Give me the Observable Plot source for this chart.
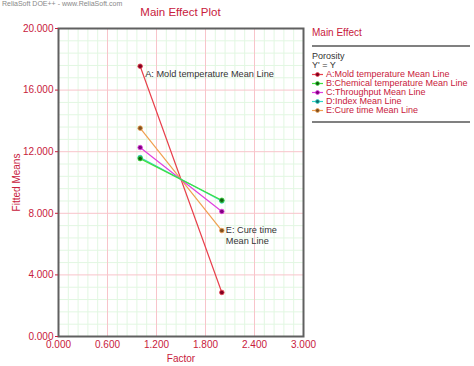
<!DOCTYPE html>
<html>
<head>
<meta charset="utf-8">
<script src="https://cdn.jsdelivr.net/npm/d3@7"></script>
<script src="https://cdn.jsdelivr.net/npm/@observablehq/plot@0.6"></script>
<style>
  body { margin: 0; background: #fff; }
  #wrap { position: relative; width: 474px; height: 366px; overflow: hidden; font-family: "Liberation Sans", Arial, sans-serif; }
  .abs { position: absolute; white-space: nowrap; }
  #credit { left: 2px; top: 0px; font-size: 7px; color: #888; }
  #title { left: 0; width: 361px; text-align: center; top: 6px; font-size: 11.5px; color: #c8203c; }
  #legend { left: 312px; top: 27px; width: 158px; font-size: 9px; }
  #legend .hdr { color: #c8203c; font-size: 10px; height: 15px; }
  #legend .sep { border-top: 2px solid #808080; margin: 3px 0 5px 0; }
  #legend .blk { color: #333; line-height: 9px; height: 9px; }
  #legend .item { color: #c8203c; line-height: 9px; height: 9px; display: flex; align-items: center; }
  #legend svg { flex: none; margin-right: 3px; }
</style>
</head>
<body>
<div id="wrap">
  <div id="credit" class="abs">ReliaSoft DOE++ - www.ReliaSoft.com</div>
  <div id="title" class="abs">Main Effect Plot</div>
  <div id="legend" class="abs"></div>
</div>
<script>
// ---- data ----
const factors = ["A:Mold temperature Mean Line", "B:Chemical temperature Mean Line", "C:Throughput Mean Line", "D:Index Mean Line", "E:Cure time Mean Line"];
const levels = [1, 2];
const meanLow = [17.55, 11.55, 12.27, 11.62, 13.53];
const meanHigh = [2.86, 8.85, 8.12, 8.80, 6.88];
const lineColors = ["#e8404c", "#40e040", "#e040e0", "#30d8c8", "#f0a050"];
const dotColors = ["#800020", "#106010", "#800080", "#107070", "#805020"];
const drawOrder = [0, 4, 2, 3, 1];
const xTicks = [0, 0.6, 1.2, 1.8, 2.4, 3.0];
const yTicks = [0, 4, 8, 12, 16, 20];
const annotA = [{x: levels[0], y: meanLow[0], text: "A: Mold temperature Mean Line"}];
const annotE = [{x: levels[1], y: meanHigh[4], text: "E: Cure time\nMean Line"}];

const red = "#c8203c";
const rows = [];
drawOrder.forEach(i => {
  const f = factors[i];
  rows.push({f, i, x: levels[0], y: meanLow[i]});
  rows.push({f, i, x: levels[1], y: meanHigh[i]});
});
const minorX = d3.range(0, 3.0001, 0.12).filter(v => !xTicks.some(t => Math.abs(t - v) < 1e-6));
const minorY = d3.range(0, 20.0001, 0.8).filter(v => !yTicks.some(t => Math.abs(t - v) < 1e-6));

const chart = Plot.plot({
  width: 474,
  height: 366,
  marginLeft: 58,
  marginRight: 171,
  marginTop: 28,
  marginBottom: 30,
  style: {fontFamily: "Liberation Sans, Arial, sans-serif", fontSize: "10px", background: "transparent", overflow: "visible"},
  x: {domain: [0, 3]},
  y: {domain: [0, 20]},
  marks: [
    Plot.ruleX(minorX, {stroke: "#e2f7e2", strokeWidth: 1}),
    Plot.ruleY(minorY, {stroke: "#e2f7e2", strokeWidth: 1}),
    Plot.ruleX(xTicks.slice(1, -1), {stroke: "#f8c4ca", strokeWidth: 1}),
    Plot.ruleY(yTicks.slice(1, -1), {stroke: "#f8c4ca", strokeWidth: 1}),
    Plot.frame({stroke: "#606060", strokeWidth: 2}),
    Plot.axisX({ticks: xTicks, tickFormat: d3.format(".3f"), tickSize: 0, tickPadding: 4, color: red,
      label: "Factor", labelAnchor: "center", labelArrow: "none", labelOffset: 25}),
    Plot.axisY({ticks: yTicks, tickFormat: d3.format(".3f"), tickSize: 3, tickPadding: 2, color: red,
      label: "Fitted Means", labelAnchor: "center", labelArrow: "none", labelOffset: 46}),
    Plot.line(rows, {x: "x", y: "y", z: "f", stroke: d => lineColors[d.i], strokeWidth: 1.2}),
    Plot.dot(rows, {x: "x", y: "y", r: 2.3, fill: d => dotColors[d.i], stroke: d => lineColors[d.i], strokeWidth: 0.8}),
    Plot.text(annotA, {x: "x", y: "y", text: "text", textAnchor: "start", lineAnchor: "middle", dx: 5, dy: 8,
      fill: "#333", fontSize: 9.2}),
    Plot.text(annotE, {x: "x", y: "y", text: "text", textAnchor: "start", lineAnchor: "top", dx: 4, dy: -5,
      fill: "#333", fontSize: 9.2, lineHeight: 1.2})
  ]
});
const wrap = document.getElementById("wrap");
chart.style.position = "absolute";
chart.style.left = "0px";
chart.style.top = "0px";
wrap.insertBefore(chart, wrap.firstChild);

// legend
const lg = document.getElementById("legend");
let html = '<div class="hdr">Main Effect</div><div class="sep"></div>';
html += '<div class="blk">Porosity</div><div class="blk">Y\' = Y</div>';
factors.forEach((f, i) => {
  html += `<div class="item"><svg width="11" height="9"><line x1="0" x2="11" y1="4.5" y2="4.5" stroke="${lineColors[i]}" stroke-width="1.2"/><circle cx="5.5" cy="4.5" r="2" fill="${dotColors[i]}" stroke="${lineColors[i]}" stroke-width="0.7"/></svg><span>${f}</span></div>`;
});
html += '<div class="sep" style="margin-top:6px"></div>';
lg.innerHTML = html;
</script>
</body>
</html>
